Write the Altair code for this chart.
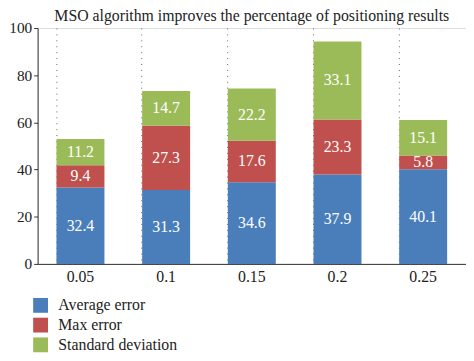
import altair as alt
import pandas as pd

categories = ["0.05", "0.1", "0.15", "0.2", "0.25"]
series = ["Average error", "Max error", "Standard deviation"]
avg_error = [32.4, 31.3, 34.6, 37.9, 40.1]
max_error = [9.4, 27.3, 17.6, 23.3, 5.8]
std_dev = [11.2, 14.7, 22.2, 33.1, 15.1]
colors = ["#4a7ebb", "#c0504d", "#9bbb59"]
y_ticks = list(range(0, 101, 10))

rows = []
for name, vals in zip(series, [avg_error, max_error, std_dev]):
    for i, (c, v) in enumerate(zip(categories, vals)):
        rows.append({"cat": c, "series": name, "value": v,
                     "order": series.index(name), "label": f"{v:.1f}"})
df = pd.DataFrame(rows)

FONT = "Liberation Serif"

base = alt.Chart(df).transform_stack(
    stack="value", groupby=["cat"], as_=["y0", "y1"],
    sort=[alt.SortField("order", order="ascending")]
).transform_calculate(mid="(datum.y0 + datum.y1) / 2")

xenc = alt.X("cat:N", sort=categories, title=None,
             scale=alt.Scale(paddingInner=0.44, paddingOuter=0.22),
             axis=alt.Axis(labelAngle=0, ticks=False, labelPadding=5,
                           labelFontSize=16, labelFont=FONT, labelColor="#222",
                           domainColor="#333", domainWidth=1,
                           grid=True, bandPosition=0, gridDash=[1, 5],
                           gridColor="#666", gridWidth=1))

bars = base.mark_bar().encode(
    x=xenc,
    y=alt.Y("y0:Q", title=None,
            scale=alt.Scale(domain=[0, 100], nice=False),
            axis=alt.Axis(values=y_ticks, grid=False, tickSize=4,
                          tickColor="#333", domainColor="#333",
                          labelFontSize=15.5, labelFont=FONT, labelColor="#222",
                          labelPadding=2, labelFlush=False)),
    y2="y1:Q",
    color=alt.Color("series:N", sort=series,
                    scale=alt.Scale(domain=series, range=colors),
                    legend=alt.Legend(title=None, orient="none", legendX=-5,
                                      legendY=273, symbolType="square",
                                      symbolSize=225, symbolStrokeWidth=0,
                                      symbolOpacity=1,
                                      labelFont=FONT, labelFontSize=16,
                                      labelColor="#222", labelOffset=10,
                                      rowPadding=4)),
)

texts = base.mark_text(color="white", font=FONT, fontSize=16,
                       baseline="middle").encode(
    x=alt.X("cat:N", sort=categories),
    y=alt.Y("mid:Q"),
    text="label:N",
)

chart = alt.layer(bars, texts).properties(
    width=434, height=239,
    title=alt.TitleParams("MSO algorithm improves the percentage of positioning results",
                          font=FONT, fontSize=16, fontWeight="normal",
                          color="#222", offset=6, dy=9),
    autosize=alt.AutoSizeParams(type="none"),
    padding={"left": 30, "top": 18, "right": 0, "bottom": 88},
).configure_view(stroke="#aaaaaa", strokeWidth=1).configure(background="white")

chart.save("out.html", embed_options={"renderer": "svg", "actions": False})
